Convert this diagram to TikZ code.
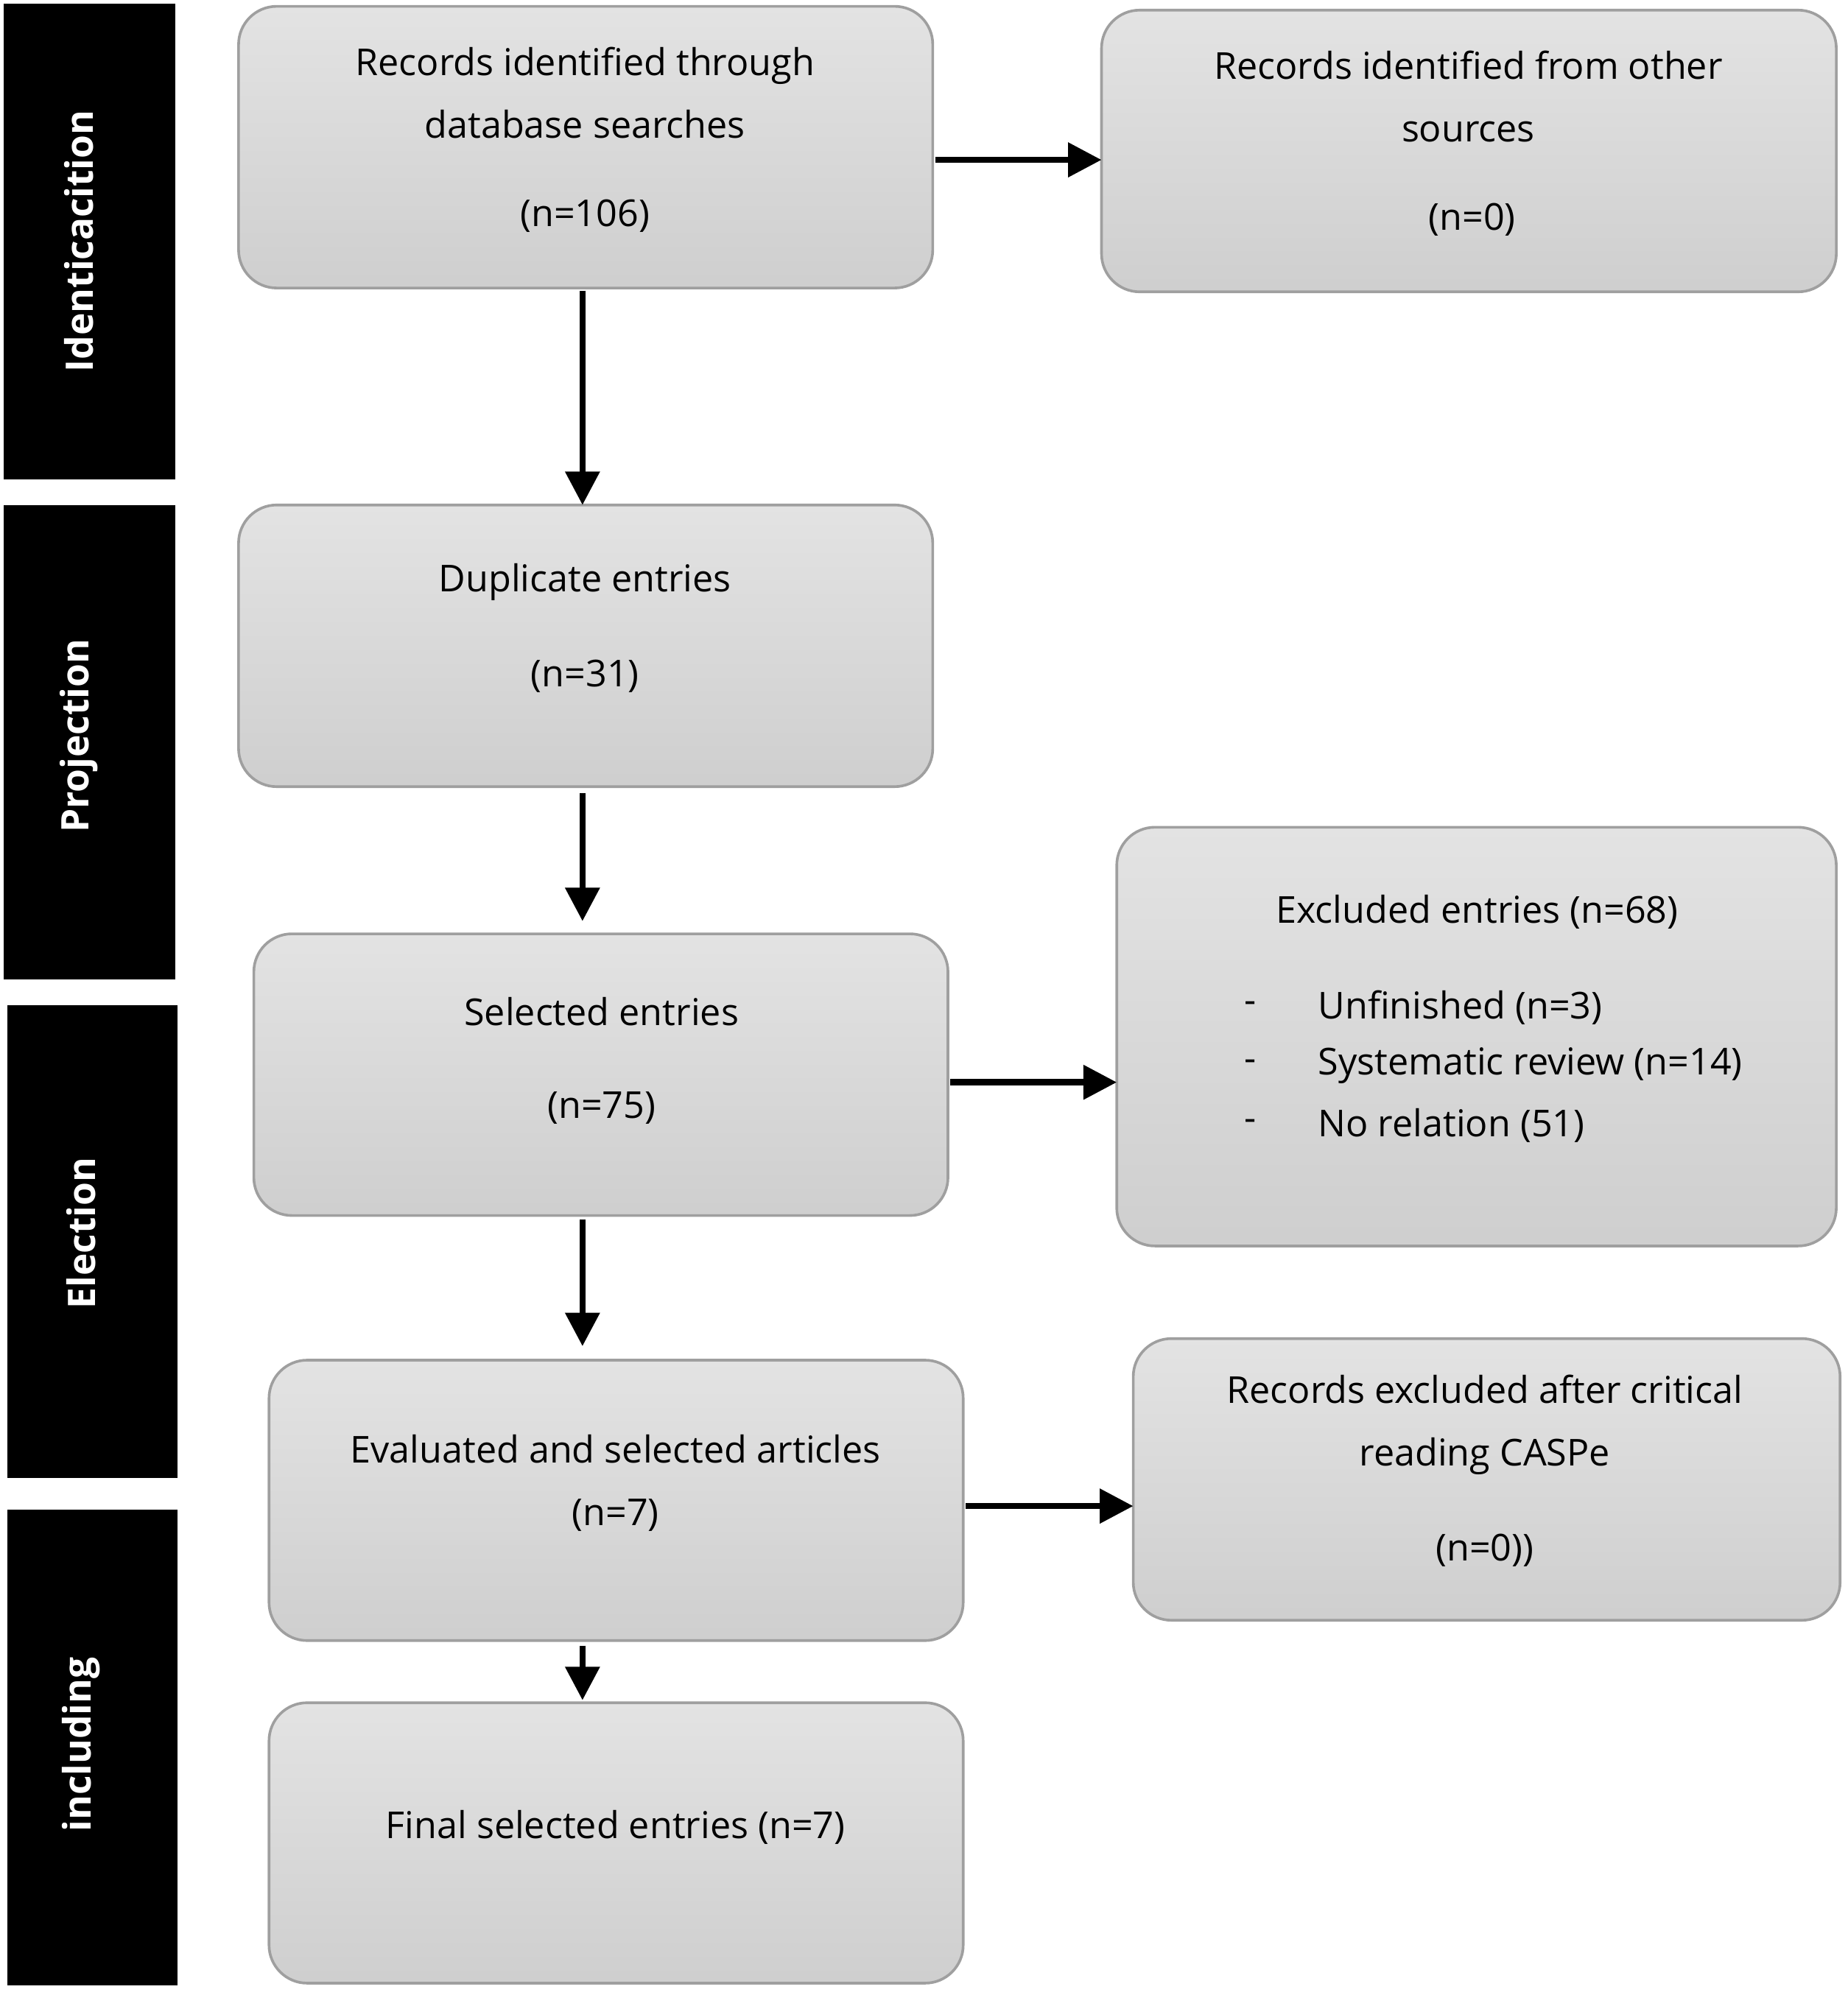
\documentclass[tikz,border=0pt]{standalone}
\usepackage{fontspec}
\setmainfont{Open Sans}
\usetikzlibrary{arrows.meta}
\begin{document}
\begin{tikzpicture}[x=0.01cm,y=-0.01cm,
  box/.style={draw=gray!75,line width=0.6pt,rounded corners=0.3cm,top color=gray!22,bottom color=gray!38,inner sep=0pt},
  side/.style={fill=black,inner sep=0pt},
  sl/.style={text=white,font=\fontsize{8.5}{10}\selectfont\bfseries,rotate=90},
  t/.style={font=\fontsize{8.3}{10}\selectfont,inner sep=0pt,align=center},
  ar/.style={line width=1.4pt,-{Triangle[length=7.5pt,width=7.5pt]}}]
\useasboundingbox (0,0) rectangle (1456,1570);
% sidebars
\fill[side] (3,3) rectangle (138,378); \node[sl] (s1) at (62,190) {Identicacition};
\fill[side] (3,398) rectangle (138,772); \node[sl] (s2) at (62,580) {Projection};
\fill[side] (6,792) rectangle (140,1165); \node[sl] (s3) at (64,972) {Election};
\fill[side] (6,1190) rectangle (140,1565); \node[sl] (s4) at (64,1375) {including};
% boxes
\path[box] (188,5) rectangle (735,227); \coordinate (b1s) at (459,229); \coordinate (b1e) at (737,126);
\node[t] (t1) at (461,73) {Records identified through\\[4pt]database searches};
\node[t] (t1n) at (461,170) {(n=106)};
\path[box] (868,8) rectangle (1447,230); \coordinate (b2w) at (868,126);
\node[t] (t2) at (1157,76) {Records identified from other\\[4pt]sources};
\node[t] (t2n) at (1160,173) {(n=0)};
\path[box] (188,398) rectangle (735,620); \coordinate (b3n) at (459,398); \coordinate (b3s) at (459,625);
\node[t] (t3) at (461,459) {Duplicate entries};
\node[t] (t3n) at (461,533) {(n=31)};
\path[box] (200,736) rectangle (747,958); \coordinate (b4n) at (459,726); \coordinate (b4e) at (749,853); \coordinate (b4s) at (459,961);
\node[t] (t4) at (474,797) {Selected entries};
\node[t] (t4n) at (474,873) {(n=75)};
\path[box] (880,652) rectangle (1447,982); \coordinate (b5w) at (880,853);
\node[t] (t5) at (1164,719) {Excluded entries (n=68)};
\node[t,anchor=west] (d1) at (980,794) {-};
\node[t,anchor=west] (d2) at (980,840) {-};
\node[t,anchor=west] (d3) at (980,887) {-};
\node[t,anchor=west] (l1) at (1038,794) {Unfinished (n=3)};
\node[t,anchor=west] (l2) at (1038,840) {Systematic review (n=14)};
\node[t,anchor=west] (l3) at (1038,887) {No relation (51)};
\path[box] (212,1072) rectangle (759,1293); \coordinate (b6n) at (459,1061); \coordinate (b6e) at (761,1187); \coordinate (b6s) at (459,1297);
\node[t] (t6) at (485,1169) {Evaluated and selected articles\\[4pt](n=7)};
\path[box] (893,1055) rectangle (1450,1277); \coordinate (b7w) at (893,1187);
\node[t] (t7) at (1170,1123) {Records excluded after critical\\[4pt]reading CASPe};
\node[t] (t7n) at (1170,1222) {(n=0))};
\path[box] (212,1342) rectangle (759,1563); \coordinate (b8n) at (459,1340);
\node[t] (t8) at (485,1440) {Final selected entries (n=7)};
% arrows
\draw[ar] (b1s) -- (b3n);
\draw[ar] (b1e) -- (b2w);
\draw[ar] (b3s) -- (b4n);
\draw[ar] (b4e) -- (b5w);
\draw[ar] (b4s) -- (b6n);
\draw[ar] (b6e) -- (b7w);
\draw[ar] (b6s) -- (b8n);
\end{tikzpicture}
\end{document}
